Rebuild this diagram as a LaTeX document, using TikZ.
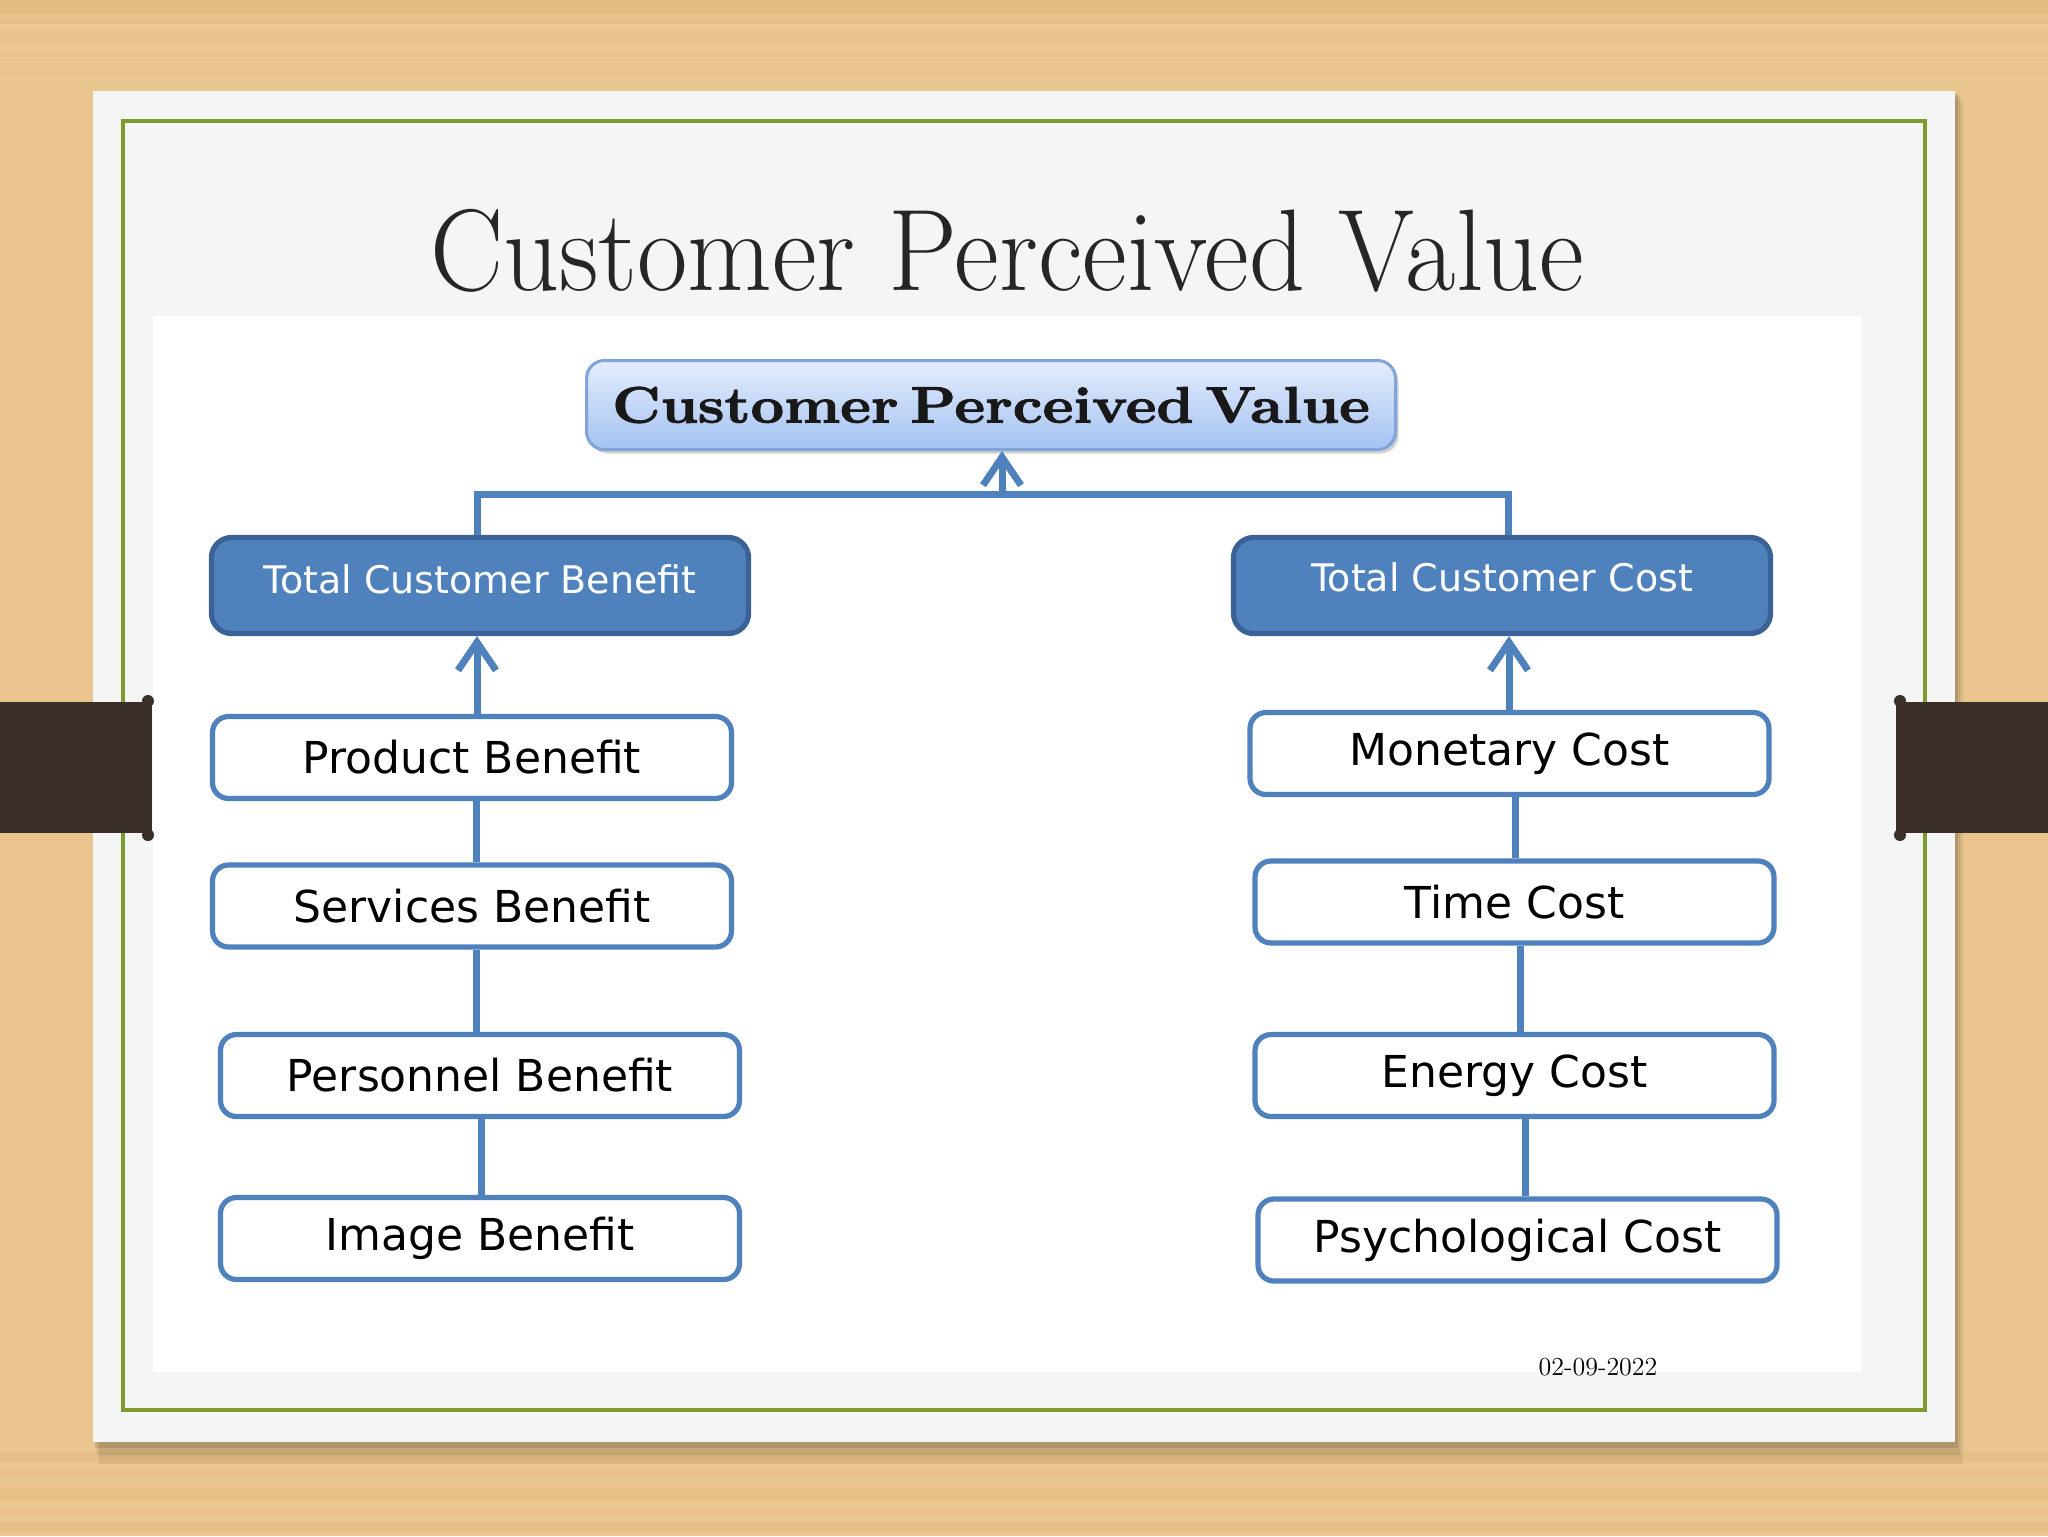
\documentclass[tikz,border=0pt]{standalone}
\usepackage{fontspec}
\newfontfamily\boxfont{DejaVu Sans}
\newfontfamily\cpvfont[FakeBold=1.6]{lmroman10-bold.otf}
\usetikzlibrary{arrows.meta,shadows}
\definecolor{wood}{HTML}{EAC58E}
\definecolor{woodd}{HTML}{D6A86A}
\definecolor{woodl}{HTML}{F2D4A4}
\definecolor{paper}{HTML}{F4F5F5}
\definecolor{frameg}{HTML}{7F9B2E}
\definecolor{obl}{HTML}{4F81BD}
\definecolor{obd}{HTML}{3A6296}
\definecolor{topb}{HTML}{7FA4DA}
\definecolor{topt}{HTML}{E4EDFC}
\definecolor{topbt}{HTML}{A4C2F2}
\definecolor{barc}{HTML}{3A3029}
\definecolor{titlec}{HTML}{262626}
\begin{document}
\begin{tikzpicture}[x=0.5pt,y=-0.5pt,
  wbox/.style={draw=obl, line width=2.6pt, fill=white, rounded corners=8pt,
    minimum width=259.5pt, minimum height=41pt, inner sep=0pt,
    font=\boxfont\fontsize{22}{26}\selectfont},
  tbox/.style={draw=obd, line width=2.6pt, fill=obl, rounded corners=10pt,
    minimum width=268.5pt, minimum height=48pt, inner sep=0pt, text=white,
    font=\boxfont\fontsize{19}{23}\selectfont, text height=14pt, text depth=6.5pt},
  topbox/.style={draw=topb, line width=1.5pt, rounded corners=9pt,
    top color=topt, bottom color=topbt, minimum width=404.5pt, minimum height=44.5pt,
    inner sep=0pt, text=black!90, font=\cpvfont\fontsize{29.2}{33}\selectfont,
    drop shadow={shadow xshift=1.5pt, shadow yshift=-2pt, opacity=0.3, fill=black!60}},
  conn/.style={draw=obl, line width=3.5pt},
  arr/.style={conn, -{Straight Barb[length=14pt,width=19pt]}},
]
\useasboundingbox (0,0) rectangle (2048,1536);
% wood background
\fill[wood] (0,0) rectangle (2048,1536);
\foreach \yy/\hh/\op in {0/14/0.25,18/6/0.15,33/10/0.12,52/5/0.12,70/6/0.1,
   1452/10/0.2,1470/6/0.12,1488/12/0.15,1510/5/0.12,1522/10/0.2}{
  \fill[woodd, opacity=\op] (0,\yy) rectangle (2048,\yy+\hh);}
\foreach \yy/\hh/\op in {24/6/0.25,45/5/0.2,80/4/0.2,1480/5/0.2,1502/6/0.2}{
  \fill[woodl, opacity=\op] (0,\yy) rectangle (2048,\yy+\hh);}
% paper shadow
\fill[black, opacity=0.07] (99,99) rectangle (1963,1464);
\fill[black, opacity=0.08] (97,96) rectangle (1960,1455);
\fill[black, opacity=0.10] (95,94) rectangle (1958,1448);
% paper
\fill[paper] (93,91) rectangle (1955,1442);
\draw[frameg, line width=2pt] (123,121) rectangle (1925,1410);
\fill[white] (153,316) rectangle (1862,1372);
% title
\node[anchor=base, text=titlec, font=\fontsize{54.8}{60}\selectfont, inner sep=0pt]
  (title) at (1007,290) {\scalebox{1}[1.06]{Customer Perceived Value}};
% diagram nodes
\node[topbox] (top) at (991,405) {\scalebox{1}[0.88]{Customer\hspace{0.2em}Perceived\hspace{0.2em}Value}};
\node[tbox] (tcb) at (480,585.5) {Total Customer Benefit};
\node[tbox, text depth=8pt] (tcc) at (1502,585.5) {Total Customer Cost};
\node[wbox] (pb) at (472,757.5) {Product Benefit};
\node[wbox] (sb) at (472,906) {Services Benefit};
\node[wbox] (peb) at (480,1075.5) {Personnel Benefit};
\node[wbox] (ib) at (480,1238.5) {Image Benefit};
\node[wbox] (mc) at (1509.5,753.5) {Monetary Cost};
\node[wbox] (tc) at (1514.5,902) {Time Cost};
\node[wbox] (ec) at (1514.5,1075.5) {Energy Cost};
\node[wbox] (pc) at (1517.5,1240) {Psychological Cost};
% connector helper coordinates
\coordinate (hl) at (477,494);
\coordinate (hr) at (1508,494);
\coordinate (ha) at (1002,494);
\coordinate (xa) at (477,0);
\coordinate (xb) at (476,0);
\coordinate (xc) at (481,0);
\coordinate (xd) at (1509,0);
\coordinate (xe) at (1515,0);
\coordinate (xf) at (1520,0);
\coordinate (xg) at (1525,0);
% connectors
\draw[conn] (tcb.north -| hl) -- (hl) -- (hr) -- (tcc.north -| hr);
\draw[arr] (ha) -- (ha |- top.south);
\draw[arr] (pb.north -| xa) -- (tcb.south -| xa);
\draw[conn] (pb.south -| xb) -- (sb.north -| xb);
\draw[conn] (sb.south -| xb) -- (peb.north -| xb);
\draw[conn] (peb.south -| xc) -- (ib.north -| xc);
\draw[arr] (mc.north -| xd) -- (tcc.south -| xd);
\draw[conn] (mc.south -| xe) -- (tc.north -| xe);
\draw[conn] (tc.south -| xf) -- (ec.north -| xf);
\draw[conn] (ec.south -| xg) -- (pc.north -| xg);
% date
\node[anchor=base, font=\fontsize{13}{15}\selectfont, inner sep=0pt] (date) at (1598,1375) {02-09-2022};
% clips
\fill[barc] (0,702) rectangle (152,833);
\fill[barc] (148,701) circle[radius=3pt];
\fill[barc] (148,835) circle[radius=3pt];
\fill[barc] (1896,702) rectangle (2048,833);
\fill[barc] (1900,701) circle[radius=3pt];
\fill[barc] (1900,835) circle[radius=3pt];
\end{tikzpicture}
\end{document}
